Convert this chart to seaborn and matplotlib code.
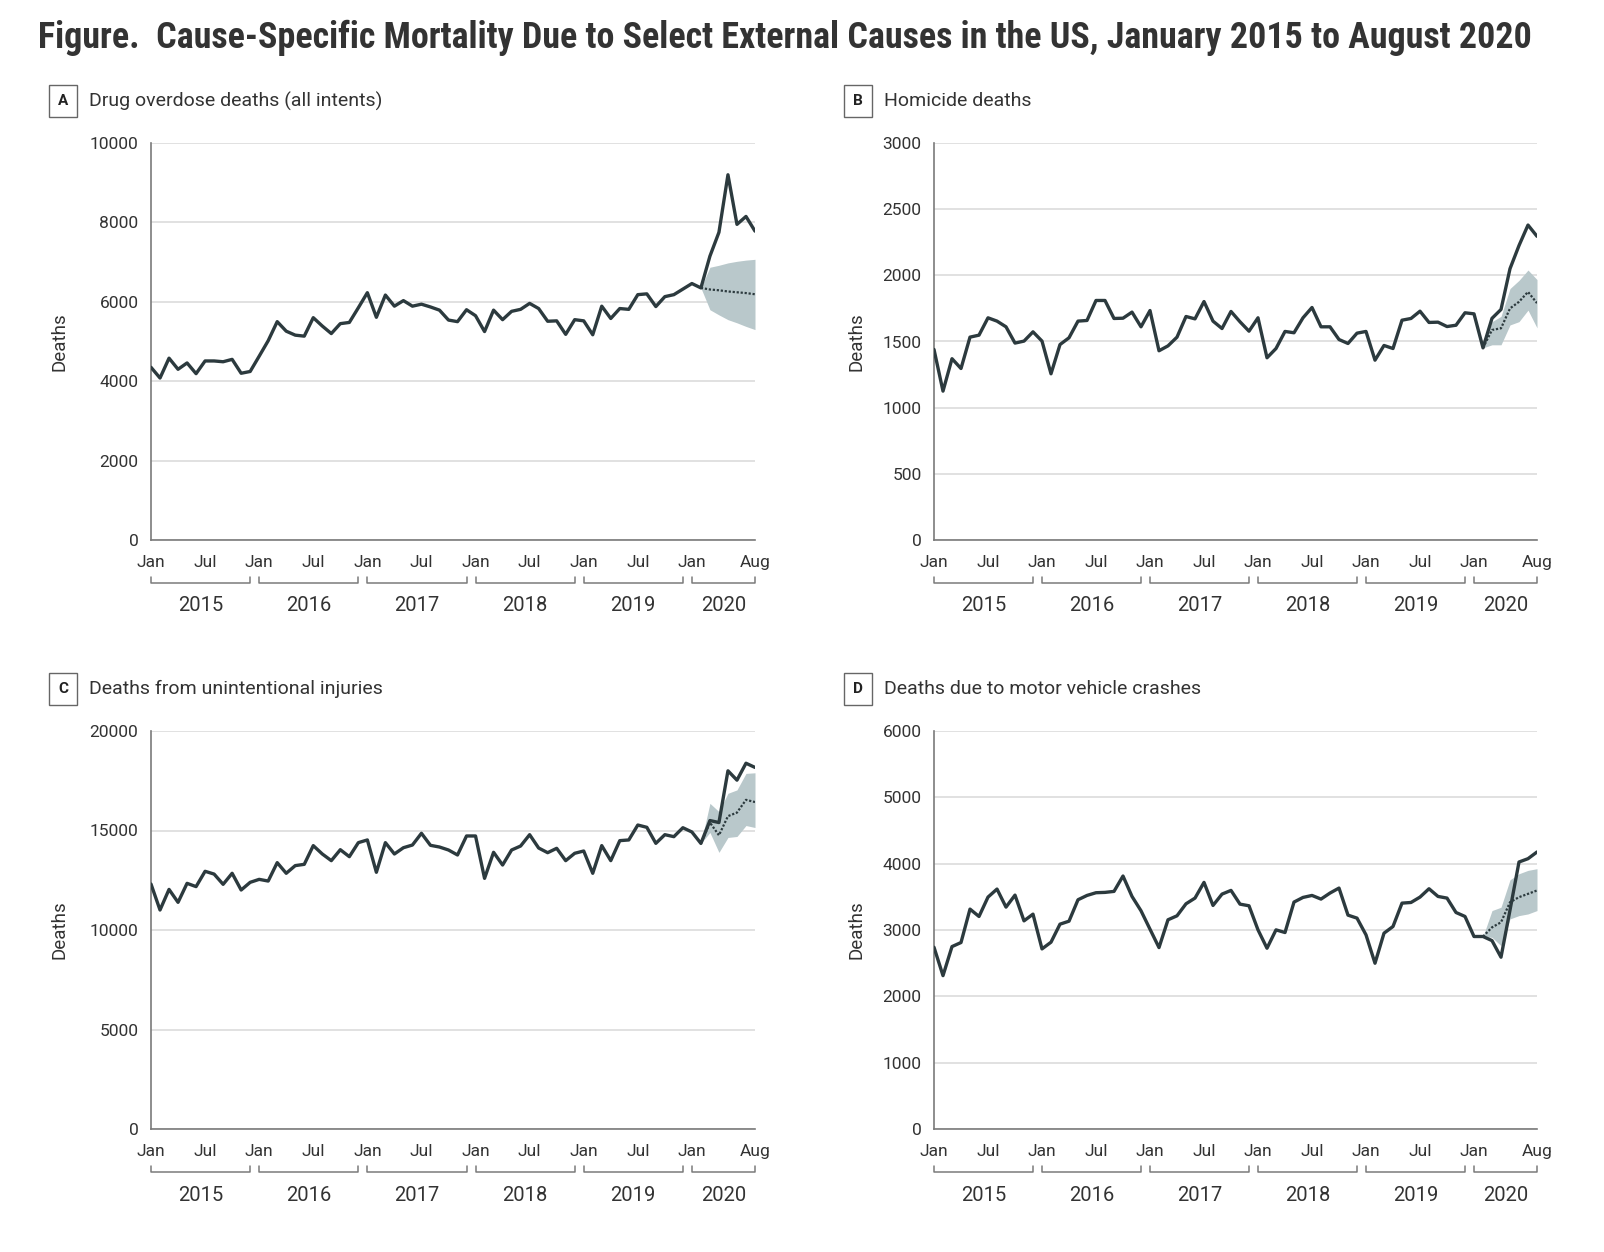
import numpy as np
import pandas as pd
import seaborn as sns
import matplotlib
matplotlib.use("Agg")
import matplotlib.pyplot as plt
from matplotlib import font_manager

# months Jan 2015 .. Aug 2020
months = pd.period_range("2015-01", "2020-08", freq="M")
years = [2015, 2016, 2017, 2018, 2019, 2020]

drug_obs = [4350, 4080, 4580, 4300, 4460, 4190, 4510, 4510, 4490, 4550, 4200, 4245,
            4630, 5020, 5500, 5260, 5160, 5135, 5600, 5390, 5200, 5450, 5480, 5850,
            6230, 5610, 6170, 5890, 6030, 5890, 5940, 5870, 5790, 5540, 5500, 5800,
            5650, 5250, 5790, 5550, 5760, 5810, 5960, 5830, 5510, 5520, 5180, 5550,
            5520, 5170, 5890, 5580, 5830, 5810, 6180, 6200, 5880, 6130, 6180, 6320,
            6460, 6350, 7150, 7750, 9200, 7950, 8150, 7780]
homicide_obs = [1440, 1125, 1370, 1296, 1533, 1548, 1679, 1654, 1611, 1488, 1503, 1573,
                1503, 1256, 1477, 1528, 1654, 1659, 1810, 1810, 1674, 1676, 1722, 1611,
                1734, 1430, 1467, 1533, 1689, 1671, 1802, 1654, 1598, 1727, 1649, 1578,
                1679, 1377, 1447, 1576, 1566, 1679, 1757, 1611, 1611, 1515, 1485, 1563,
                1576, 1359, 1470, 1447, 1661, 1674, 1729, 1644, 1646, 1613, 1623, 1717,
                1709, 1452, 1675, 1742, 2050, 2225, 2380, 2295]
injury_obs = [12310, 11005, 12040, 11390, 12345, 12180, 12950, 12810, 12295, 12850, 12010, 12395,
              12545, 12460, 13385, 12850, 13235, 13300, 14240, 13820, 13485, 14035, 13685, 14390,
              14525, 12900, 14390, 13820, 14135, 14270, 14860, 14255, 14170, 14020, 13770, 14725,
              14725, 12595, 13905, 13265, 14020, 14220, 14790, 14120, 13885, 14105, 13485, 13855,
              13970, 12850, 14240, 13485, 14490, 14525, 15275, 15160, 14355, 14790, 14690, 15140,
              14925, 14350, 15500, 15400, 18000, 17530, 18380, 18170]
motor_obs = [2740, 2312, 2750, 2811, 3315, 3204, 3496, 3617, 3345, 3526, 3138, 3239,
             2715, 2816, 3088, 3133, 3456, 3521, 3562, 3567, 3582, 3814, 3506, 3290,
             3012, 2735, 3154, 3214, 3395, 3481, 3718, 3370, 3541, 3597, 3390, 3365,
             3002, 2725, 3002, 2962, 3421, 3491, 3521, 3466, 3557, 3632, 3224, 3179,
             2927, 2499, 2952, 3053, 3405, 3415, 3496, 3622, 3506, 3481, 3264, 3204,
             2902, 2902, 2840, 2590, 3300, 4025, 4075, 4176]

# expected deaths with 95% interval, Feb 2020 .. Aug 2020
drug_exp = [6350, 6310, 6290, 6260, 6240, 6220, 6190]
drug_lo = [6350, 5800, 5670, 5550, 5470, 5380, 5300]
drug_hi = [6350, 6870, 6920, 6980, 7020, 7050, 7070]
homicide_exp = [1452, 1587, 1600, 1750, 1800, 1875, 1790]
homicide_lo = [1452, 1475, 1475, 1625, 1650, 1737, 1603]
homicide_hi = [1452, 1650, 1690, 1900, 1962, 2040, 1968]
injury_exp = [14350, 15400, 14760, 15720, 15900, 16540, 16430]
injury_lo = [14350, 14900, 13900, 14650, 14700, 15250, 15150]
injury_hi = [14350, 16365, 15950, 16870, 17040, 17870, 17900]
motor_exp = [2902, 3040, 3116, 3419, 3495, 3545, 3596]
motor_lo = [2902, 2889, 2763, 3167, 3217, 3242, 3293]
motor_hi = [2902, 3293, 3343, 3757, 3848, 3899, 3924]

panel_letters = ["A", "B", "C", "D"]
panel_titles = ["Drug overdose deaths (all intents)", "Homicide deaths",
                "Deaths from unintentional injuries", "Deaths due to motor vehicle crashes"]
y_max = [10000, 3000, 20000, 6000]
y_step = [2000, 500, 5000, 1000]

title = ("Figure.  Cause-Specific Mortality Due to Select External Causes in the US, "
         "January 2015 to August 2020")

#Picking fonts that are there
installed = {f.name for f in font_manager.fontManager.ttflist}
font_cond = next((f for f in ["Roboto Condensed", "Liberation Sans Narrow", "Roboto"]
                  if f in installed), "DejaVu Sans")
font_main = "Roboto" if "Roboto" in installed else "DejaVu Sans"

sns.set_theme(style="white")
plt.rcParams["font.family"] = [font_main, "DejaVu Sans"]

LINE = "#2c3a3e"
BAND = "#b9c8cb"
GREY = "#7a7a7a"
TXT = "#333333"

W, H = 1604, 1252
fig = plt.figure(figsize=(W / 100, H / 100), dpi=100)

# axes boxes in pixels: left, top, right, bottom
boxes = [(151, 143, 755, 540), (934, 143, 1537, 540),
         (151, 731, 755, 1129), (934, 731, 1537, 1129)]
ylabel_x = [-0.136, -0.114, -0.136, -0.114]
label_pos = [(63, 101), (858, 101), (63, 689), (858, 689)]

series = [(drug_obs, drug_exp, drug_lo, drug_hi),
          (homicide_obs, homicide_exp, homicide_lo, homicide_hi),
          (injury_obs, injury_exp, injury_lo, injury_hi),
          (motor_obs, motor_exp, motor_lo, motor_hi)]

x = np.arange(len(months))
x_proj = x[-7:]

tick_labels = []
for i, m in enumerate(months):
    if i == len(months) - 1:
        tick_labels.append("Aug")
    elif m.month == 1:
        tick_labels.append("Jan")
    elif m.month == 7 and m.year < 2020:
        tick_labels.append("Jul")
    else:
        tick_labels.append("")

for k, (l, t, r, b) in enumerate(boxes):
    ax = fig.add_axes([l / W, 1 - b / H, (r - l) / W, (b - t) / H])
    obs, exp, lo, hi = series[k]

    ax.fill_between(x_proj, lo, hi, color=BAND, lw=0, zorder=1)
    sns.lineplot(x=x_proj, y=exp, ax=ax, color=LINE, lw=1.6, linestyle=(0, (1, 0.8)), zorder=2)
    sns.lineplot(x=x, y=obs, ax=ax, color=LINE, lw=2.4, zorder=3)

    ax.set_xlim(0, len(months) - 1)
    ax.set_ylim(0, y_max[k])
    ticks = np.arange(0, y_max[k] + 1, y_step[k])
    ax.set_yticks(ticks)
    ax.set_yticklabels([str(v) for v in ticks])
    ax.set_xticks(x)
    ax.set_xticklabels(tick_labels)
    ax.tick_params(axis="x", length=6, width=1, color=GREY, labelsize=12.5, labelcolor=TXT, pad=5)
    ax.tick_params(axis="y", length=6, width=1, color=GREY, labelsize=12.5, labelcolor=TXT, pad=3)
    ax.yaxis.grid(True, color="#dedede", lw=1.3)
    ax.set_axisbelow(True)
    for s in ["top", "right"]:
        ax.spines[s].set_visible(False)
    for s in ["left", "bottom"]:
        ax.spines[s].set_color(GREY)
        ax.spines[s].set_linewidth(1.2)

    ax.set_xlabel("")
    ax.set_ylabel("Deaths", fontsize=13.5, color=TXT)
    ax.yaxis.set_label_coords(ylabel_x[k], 0.5)

    #Year brackets under the month labels
    trans = ax.get_xaxis_transform()
    for yr in years:
        start = list(months.year).index(yr)
        end = max(i for i, m in enumerate(months) if m.year == yr)
        ax.plot([start, start, end, end], [-0.094, -0.108, -0.108, -0.094], transform=trans,
                clip_on=False, color=GREY, lw=1.1)
        ax.text((start + end) / 2, -0.166, str(yr), transform=trans, ha="center", va="center",
                fontsize=14.5, color=TXT)

    #Panel letter box and title
    px, py = label_pos[k]
    fig.text(px / W, 1 - py / H, panel_letters[k], ha="center", va="center", fontsize=11,
             fontweight="bold", color="#222",
             bbox=dict(boxstyle="square,pad=0.6", fc="white", ec="#666", lw=1))
    fig.text((px + 26) / W, 1 - py / H, panel_titles[k], ha="left", va="center",
             fontsize=14, color=TXT)

fig.text(38 / W, 1 - 38 / H, title, ha="left", va="center", fontsize=25.9,
         fontweight="bold", color="#333", family=[font_cond, "DejaVu Sans"])

fig.savefig("out.png", dpi=100)
